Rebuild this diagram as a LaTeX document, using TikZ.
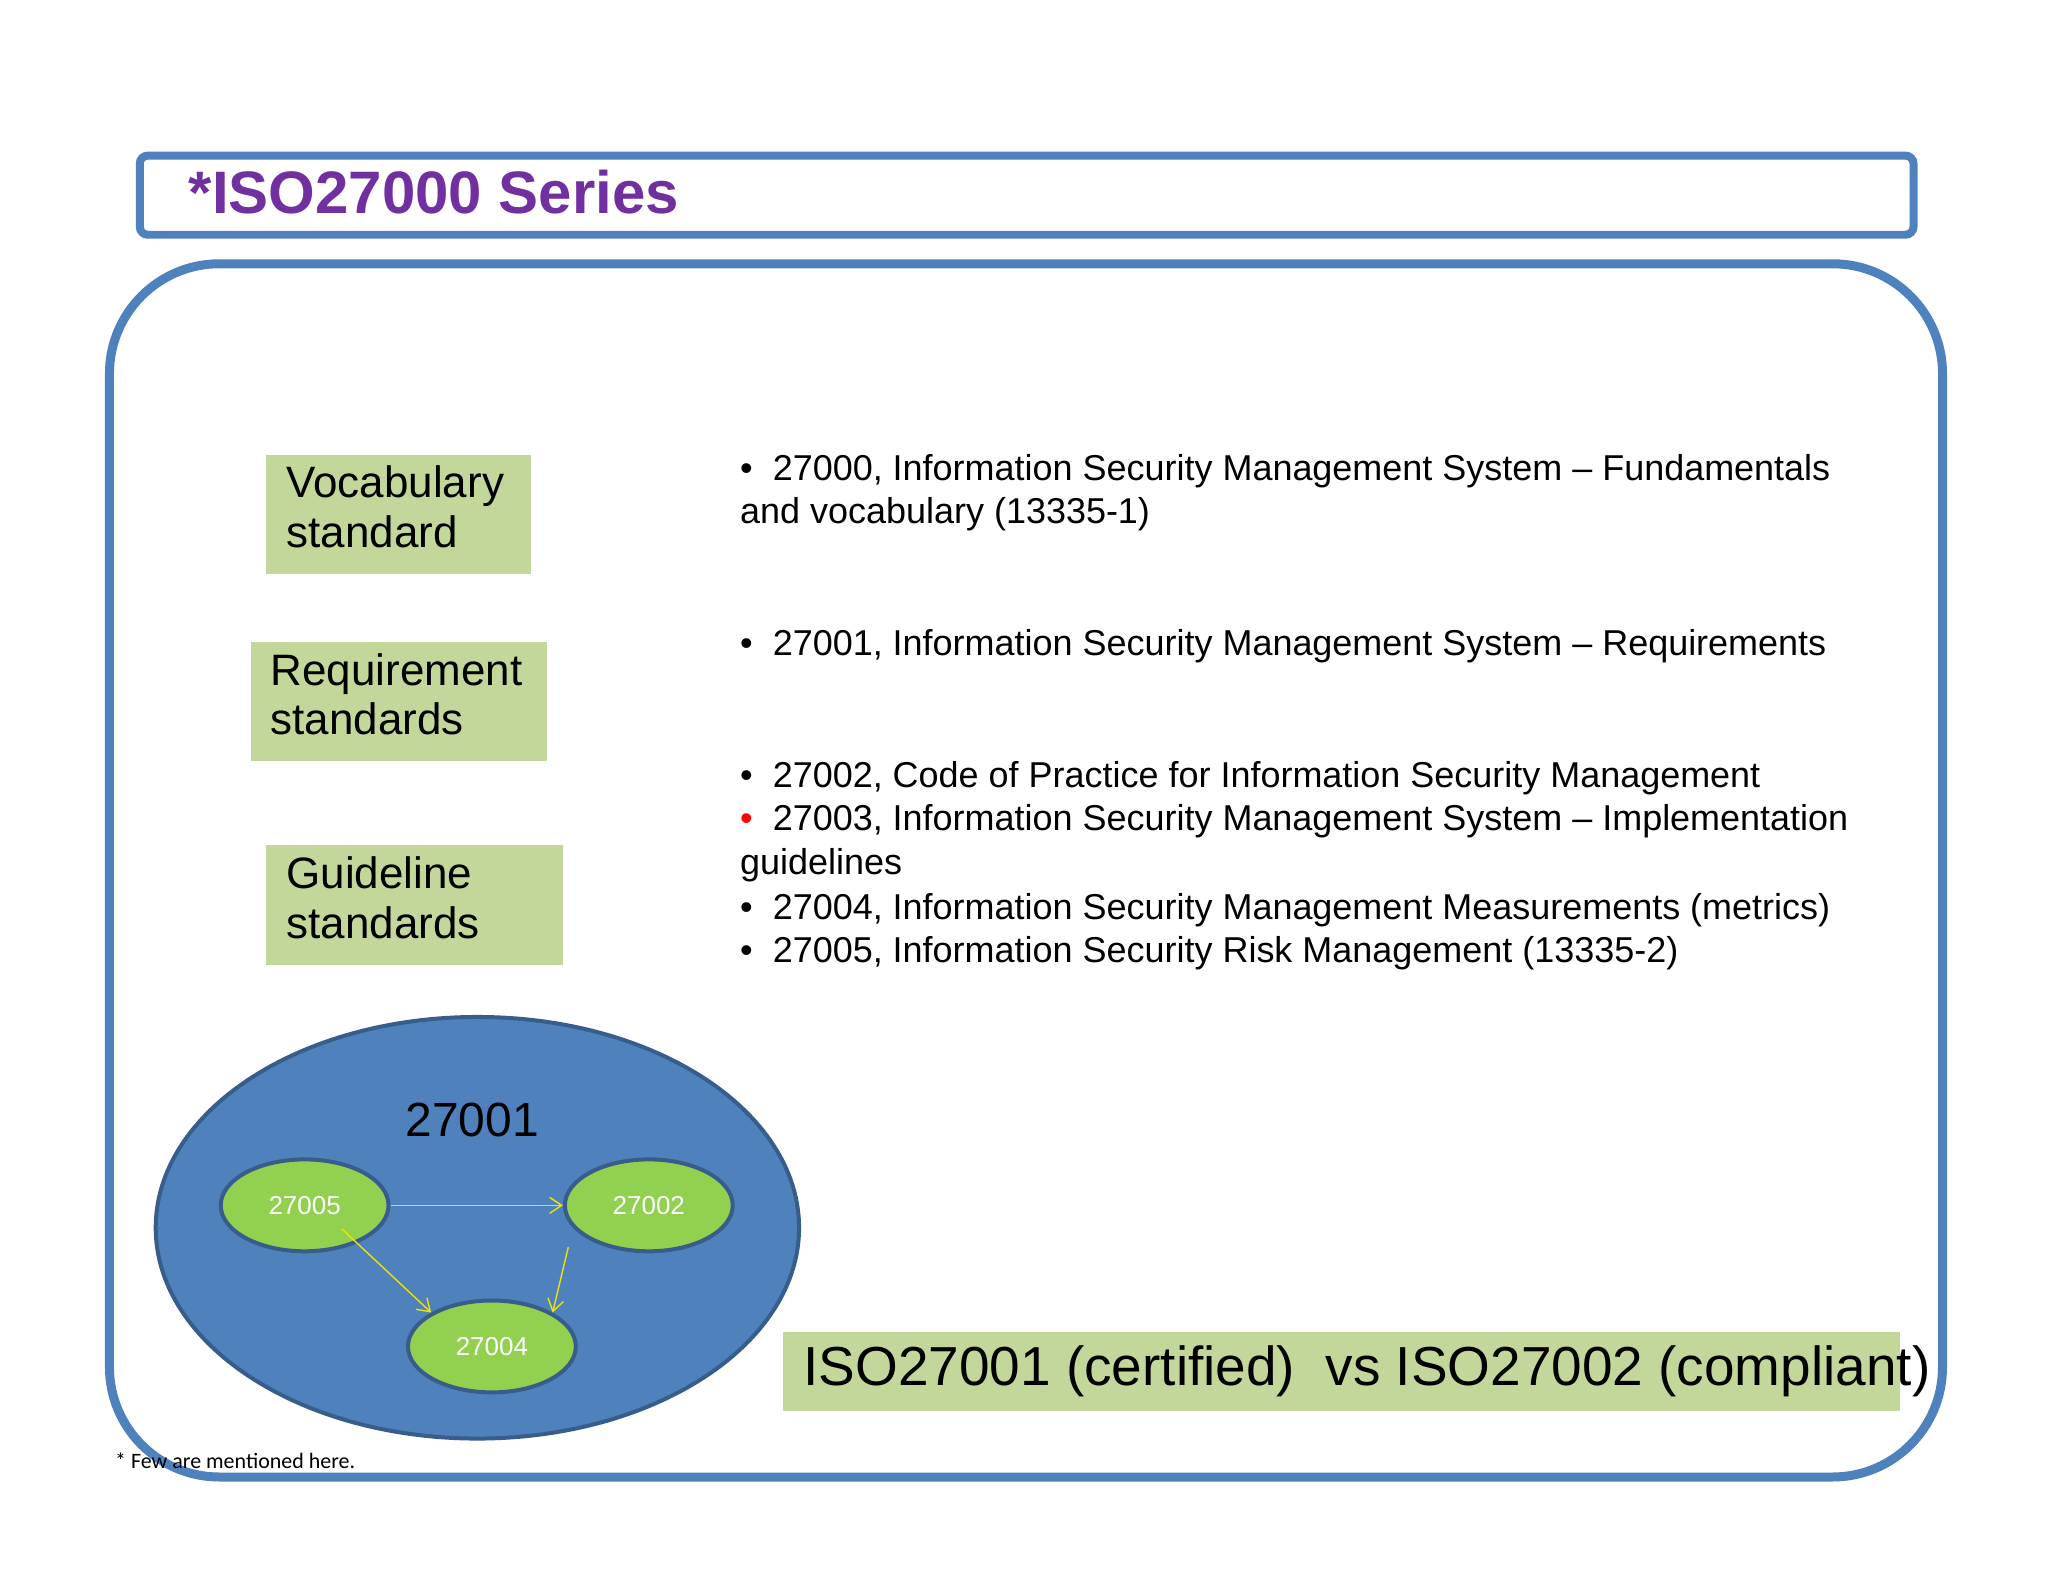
\documentclass[tikz,border=0pt]{standalone}
\usepackage{fontspec}
\setmainfont{Liberation Sans}
\newfontfamily\carlitofont{Carlito}
\usetikzlibrary{shapes.geometric,arrows.meta}
\definecolor{bl}{HTML}{4F81BD}
\definecolor{gbox}{HTML}{C4D79B}
\definecolor{pur}{HTML}{7030A0}
\definecolor{lg}{HTML}{92D050}
\definecolor{dk}{HTML}{385D8A}
\tikzset{
 lt/.style={anchor=north west,align=left,font=\fontsize{22}{25}\selectfont,text width=150pt,inner sep=0pt},
 bt/.style={anchor=west,inner sep=0pt,font=\fontsize{18}{21}\selectfont},
 small/.style={ellipse,fill=lg,draw=dk,line width=2pt,minimum width=84pt,minimum height=46pt,text=white,font=\fontsize{13}{15}\selectfont},
 arr/.style={draw=yellow!85!olive,-{Straight Barb[length=6pt,width=8pt]},line width=0.7pt}
}
\begin{document}
\begin{tikzpicture}[x=0.66pt,y=-0.66pt]
\useasboundingbox[fill=white] (0,0) rectangle (1553,1200);
\draw[bl,line width=4pt,rounded corners=4pt] (106,118) rectangle (1451,178);
\node[anchor=west,text=pur,font=\bfseries\fontsize{30}{34}\selectfont,inner sep=0pt] (title) at (143,146) {*ISO27000 Series};
\draw[bl,line width=4.5pt,rounded corners=55pt] (83,200) rectangle (1473,1120);
\fill[gbox] (202,345) rectangle (403,435);
\node[lt] (v) at (217,353) {Vocabulary\\standard};
\fill[gbox] (190,487) rectangle (415,577);
\node[lt] (r) at (205,495) {Requirement\\standards};
\fill[gbox] (202,641) rectangle (427,732);
\node[lt] (g) at (217,649) {Guideline\\standards};
\node[bt] (b1) at (561,357) {•\ \ 27000, Information Security Management System – Fundamentals};
\node[bt] (b1b) at (561,390) {and vocabulary (13335-1)};
\node[bt] (b2) at (561,490) {•\ \ 27001, Information Security Management System – Requirements};
\node[bt] (b3) at (561,590) {•\ \ 27002, Code of Practice for Information Security Management};
\node[bt] (b4) at (561,623) {\textcolor{red}{•}\ \ 27003, Information Security Management System – Implementation};
\node[bt] (b4b) at (561,656) {guidelines};
\node[bt] (b5) at (561,690) {•\ \ 27004, Information Security Management Measurements (metrics)};
\node[bt] (b6) at (561,723) {•\ \ 27005, Information Security Risk Management (13335-2)};
\node[ellipse,fill=bl,draw=dk,line width=2pt,minimum width=322pt,minimum height=211pt] (big) at (362,931) {};
\node[font=\fontsize{24}{28}\selectfont] (t1) at (358,849) {27001};
\node[small] (a) at (231,914) {27005};
\node[small] (b) at (492,914) {27002};
\node[small] (c) at (373,1021) {27004};
\draw[arr] (a.east) -- (b.west);
\draw[arr] (a.south east) ++(-18,-8) -- (c.north west);
\draw[arr] (b.south west) ++(-15,6) -- (c.north east);
\fill[gbox] (594,1010) rectangle (1441,1070);
\node[anchor=west,inner sep=0pt,font=\fontsize{27.5}{30}\selectfont] (bot) at (609,1040) {ISO27001 (certified)\ \ vs ISO27002 (compliant)};
\node[anchor=west,inner sep=0pt,font=\carlitofont\fontsize{11}{13}\selectfont] (fn) at (87,1108) {* Few are mentioned here.};
\end{tikzpicture}
\end{document}
